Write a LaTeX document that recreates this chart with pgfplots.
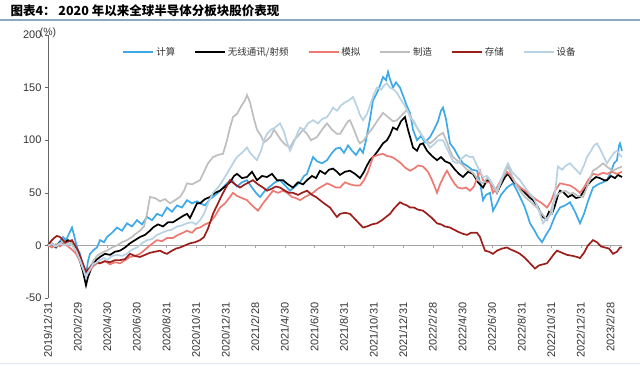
\documentclass[border=0pt]{standalone}
\usepackage{pgfplots}
\pgfplotsset{compat=1.18}
\usepackage{fontspec}
\setmainfont{Liberation Sans}
\newfontfamily\cjk{Noto Sans CJK SC}
\definecolor{cBlue}{HTML}{3FA9E8}
\definecolor{cSalmon}{HTML}{EC7A72}
\definecolor{cGrey}{HTML}{BEBEBE}
\definecolor{cDark}{HTML}{9C1E1A}
\definecolor{cLight}{HTML}{B7D2E3}
\definecolor{ruleblue}{HTML}{8FA6C4}
\definecolor{txt}{HTML}{333333}
\begin{document}
\begin{tikzpicture}
\useasboundingbox (-48pt,-67pt) rectangle (592pt,298pt);
\node[anchor=west, font=\cjk\bfseries\fontsize{12.5}{14}\selectfont] at (-41pt,287pt) {图表4：\ 2020 年以来全球半导体分板块股价表现};
\draw[ruleblue, line width=1.3pt] (-48pt,278pt) -- (592pt,278pt);
\draw[cLight!50, line width=1.5pt] (-48pt,-65.5pt) -- (592pt,-65.5pt);
\begin{axis}[at={(0,0)}, anchor=south west, scale only axis, width=582pt, height=263pt,
  xmin=48, xmax=630, ymin=-50, ymax=200,
  axis lines*=left, x axis line style={draw=none}, y axis line style={gray!80!black, line width=0.6pt},
  xtick={48,77.6,107.2,136.8,166.4,196,225.6,255.2,284.8,314.4,344,373.6,403.2,432.8,462.4,492,521.6,551.2,580.8,610.4},
  xticklabels={2019/12/31,2020/2/29,2020/4/30,2020/6/30,2020/8/31,2020/10/31,2020/12/31,2021/2/28,2021/4/30,2021/6/30,2021/8/31,2021/10/31,2021/12/31,2022/2/28,2022/4/30,2022/6/30,2022/8/31,2022/10/31,2022/12/31,2023/2/28},
  x tick style={draw=none},
  x tick label style={rotate=90, anchor=east, font=\fontsize{11}{12}\selectfont, text=txt, inner sep=1.5pt},
  ytick={-50,0,50,100,150,200},
  y tick style={gray!80!black, line width=0.6pt},
  y tick label style={font=\fontsize{11}{12}\selectfont, text=txt},
  tick align=outside, major tick length=3pt,
  /pgf/number format/assume math mode=true,
  legend style={at={(0.519,0.935)}, anchor=center, draw=none, fill=none, legend columns=6,
    font=\cjk\fontsize{9.5}{11}\selectfont, text=txt,
    /tikz/every even column/.append style={column sep=17pt}},
  legend image code/.code={\draw[#1] (0pt,0pt) -- (30pt,0pt);},
  clip=false,
]
\addplot[gray!70, line width=0.6pt, forget plot] coordinates {(48,0) (622,0)};
\addplot[ycomb, gray!70, line width=0.6pt, no marks, forget plot] coordinates {(77.6,-2.8) (107.2,-2.8) (136.8,-2.8) (166.4,-2.8) (196,-2.8) (225.6,-2.8) (255.2,-2.8) (284.8,-2.8) (314.4,-2.8) (344,-2.8) (373.6,-2.8) (403.2,-2.8) (432.8,-2.8) (462.4,-2.8) (492,-2.8) (521.6,-2.8) (551.2,-2.8) (580.8,-2.8) (610.4,-2.8)};
% 计算
\addplot[cBlue, line width=1.7pt] coordinates {
(48,0) (52,2) (56,-1) (60,4) (63,8) (66,5) (70,13) (72,17) (74,10) (77,-2) (80,-8) (83,-20) (86,-28) (88,-15) (90,-8) (94,-4) (97,-2) (100,5) (104,3) (107,8) (112,12) (117,17) (122,14) (127,21) (132,18) (137,24) (142,20) (147,27) (152,24) (157,30) (162,28) (167,36) (172,32) (177,38) (182,36) (187,43) (192,40) (197,42) (200,40) (205,38) (210,44) (213,46) (218,50) (223,55) (228,60) (232,62) (237,56) (242,60) (247,62) (252,55) (256,50) (260,46) (265,52) (270,56) (275,60) (280,62) (285,57) (290,52) (295,56) (300,60) (304,66) (307,68) (310,76) (313,84) (317,80) (322,78) (327,81) (332,88) (336,92) (340,93) (344,88) (348,95) (352,90) (356,86) (360,92) (363,88) (366,100) (370,120) (373,138) (377,145) (380,152) (383,160) (386,157) (388,165) (390,158) (393,150) (396,155) (400,150) (404,140) (407,132) (410,126) (413,110) (417,100) (421,104) (425,98) (430,103) (434,110) (438,118) (441,128) (443,131) (446,120) (450,97) (454,92) (458,85) (463,78) (468,75) (472,72) (477,71) (480,60) (483,43) (486,48) (490,50) (493,33) (497,40) (501,48) (507,55) (510,57) (513,59) (517,52) (520,46) (524,38) (527,30) (530,21) (534,15) (538,8) (542,3) (546,10) (550,16) (555,28) (560,36) (565,38) (570,41) (575,32) (580,21) (584,30) (588,42) (593,55) (598,58) (603,60) (607,62) (611,70) (614,78) (617,81) (619,95) (620,97) (622,90)};
\addlegendentry{计算}
% 无线通讯/射频
\addplot[black, line width=1.7pt] coordinates {
(48,0) (52,1) (56,-2) (60,3) (64,2) (68,5) (72,3) (76,-5) (80,-15) (83,-25) (86,-38) (88,-30) (92,-20) (96,-14) (100,-11) (105,-8) (110,-9) (115,-6) (120,-5) (125,-2) (130,2) (135,5) (140,8) (145,10) (150,14) (153,17) (158,20) (163,18) (168,22) (173,22) (178,25) (183,28) (187,30) (190,26) (194,34) (197,40) (200,40) (205,44) (210,46) (215,50) (220,52) (225,56) (230,60) (234,66) (237,68) (242,64) (247,65) (252,70) (257,62) (262,66) (267,65) (272,68) (277,62) (283,62) (288,58) (293,55) (298,60) (303,58) (307,62) (312,66) (316,64) (320,71) (325,68) (329,72) (333,73) (337,70) (340,67) (345,70) (350,71) (355,68) (360,64) (364,70) (367,76) (370,81) (374,85) (378,90) (383,97) (387,100) (390,105) (393,112) (397,110) (401,118) (405,122) (408,110) (411,100) (413,93) (417,90) (420,96) (423,97) (427,90) (432,85) (437,81) (441,84) (445,80) (450,78) (455,72) (459,68) (463,65) (468,70) (473,68) (478,60) (483,55) (487,62) (490,60) (494,55) (497,50) (501,58) (505,65) (508,68) (512,62) (516,58) (520,55) (525,50) (529,46) (533,43) (537,38) (540,32) (543,27) (546,25) (549,32) (552,30) (555,38) (558,48) (560,52) (564,50) (568,46) (572,48) (576,45) (580,46) (584,52) (588,58) (592,62) (596,65) (600,64) (604,62) (607,62) (611,66) (615,64) (618,67) (622,65)};
\addlegendentry{无线通讯/射频}
% 模拟
\addplot[cSalmon, line width=1.7pt] coordinates {
(48,0) (52,-2) (56,1) (60,-1) (64,2) (68,-1) (72,-4) (76,-8) (80,-15) (83,-22) (86,-29) (89,-25) (93,-20) (97,-17) (100,-17) (105,-15) (110,-18) (115,-16) (120,-17) (125,-14) (130,-11) (135,-10) (140,-8) (145,-4) (150,0) (154,3) (157,5) (162,4) (167,7) (173,7) (178,10) (183,12) (187,14) (192,12) (196,16) (200,17) (205,20) (210,22) (215,28) (220,36) (225,40) (230,46) (233,50) (237,47) (242,45) (247,43) (252,38) (258,33) (263,40) (268,46) (273,52) (278,50) (283,52) (287,50) (292,46) (296,45) (300,43) (305,46) (309,48) (313,50) (318,54) (322,56) (327,59) (332,57) (336,55) (340,55) (345,60) (350,58) (355,57) (360,57) (364,62) (368,70) (373,84) (378,86) (383,87) (387,85) (392,84) (397,81) (401,78) (405,74) (410,71) (414,73) (418,76) (423,75) (428,70) (432,62) (435,55) (437,50) (440,58) (444,66) (447,71) (451,64) (455,58) (458,55) (462,54) (466,55) (470,52) (474,56) (477,64) (480,71) (483,62) (486,60) (490,60) (493,50) (497,55) (502,64) (507,70) (511,66) (515,60) (520,55) (525,52) (530,48) (537,43) (542,40) (547,36) (551,42) (555,52) (560,59) (565,58) (570,57) (575,54) (580,50) (584,55) (588,62) (593,68) (598,67) (603,69) (607,68) (612,70) (617,68) (622,70)};
\addlegendentry{模拟}
% 制造
\addplot[cGrey, line width=1.7pt] coordinates {
(48,0) (52,2) (56,-1) (60,2) (64,4) (68,0) (72,3) (76,-3) (80,-12) (83,-22) (86,-30) (89,-22) (93,-15) (97,-10) (100,-8) (104,-6) (107,-5) (112,-2) (117,0) (122,3) (127,5) (132,8) (137,12) (140,14) (144,18) (147,30) (150,46) (155,45) (160,42) (165,44) (170,40) (175,43) (180,46) (184,52) (187,59) (192,58) (196,60) (200,62) (204,70) (208,78) (213,84) (218,86) (223,87) (227,100) (230,112) (233,122) (237,125) (241,132) (245,138) (247,143) (250,136) (254,120) (257,110) (261,104) (264,98) (267,100) (271,104) (274,110) (277,106) (281,100) (285,96) (290,93) (294,100) (298,104) (303,110) (307,106) (311,100) (317,103) (322,110) (327,116) (332,110) (337,106) (340,106) (344,112) (348,118) (350,119) (354,110) (358,100) (360,97) (364,100) (368,106) (373,112) (377,118) (380,122) (383,126) (388,122) (393,118) (397,119) (402,124) (407,129) (410,124) (413,118) (417,112) (421,106) (425,100) (430,97) (434,100) (438,104) (443,107) (447,98) (450,90) (453,84) (458,80) (463,76) (467,72) (470,71) (474,68) (478,62) (483,59) (487,64) (490,62) (494,55) (497,50) (501,60) (505,70) (508,75) (512,66) (516,58) (520,52) (525,46) (530,42) (537,36) (542,30) (547,24) (550,30) (553,40) (557,48) (560,50) (565,52) (570,49) (573,50) (578,47) (583,46) (588,58) (593,71) (598,74) (603,78) (608,74) (613,71) (617,73) (622,75)};
\addlegendentry{制造}
% 存储
\addplot[cDark, line width=1.7pt] coordinates {
(48,0) (51,4) (54,7) (57,9) (60,8) (63,5) (66,2) (69,4) (72,5) (75,0) (78,-5) (82,-15) (86,-25) (89,-22) (93,-18) (97,-16) (100,-17) (105,-15) (110,-16) (115,-14) (120,-14) (125,-13) (128,-10) (130,-8) (135,-10) (140,-11) (145,-9) (150,-7) (155,-6) (160,-5) (164,-7) (167,-8) (172,-5) (176,-3) (180,-2) (185,0) (190,2) (195,3) (200,5) (204,8) (208,16) (213,30) (218,40) (222,48) (226,55) (230,62) (235,58) (240,55) (245,58) (249,60) (253,62) (258,58) (263,55) (267,52) (272,54) (276,56) (280,55) (285,52) (289,50) (293,50) (298,48) (302,50) (307,52) (312,48) (316,46) (320,43) (324,40) (327,38) (330,36) (333,32) (337,27) (340,30) (345,31) (350,30) (354,26) (358,22) (363,17) (367,18) (372,20) (377,21) (382,24) (386,27) (390,30) (394,35) (397,38) (400,41) (404,39) (407,38) (410,36) (414,36) (418,34) (423,33) (427,30) (432,26) (437,21) (441,20) (445,18) (450,17) (454,15) (458,13) (463,11) (467,10) (471,12) (475,12) (477,12) (480,8) (483,0) (485,-5) (489,-6) (493,-8) (497,-5) (502,-3) (507,-2) (511,-4) (516,-6) (520,-8) (525,-12) (530,-17) (535,-22) (539,-19) (543,-18) (547,-17) (551,-12) (555,-7) (557,-5) (562,-7) (567,-9) (573,-10) (577,-11) (580,-12) (584,-7) (588,0) (593,5) (597,3) (601,-1) (605,-2) (609,-3) (613,-8) (617,-6) (620,-2) (622,-2)};
\addlegendentry{存储}
% 设备
\addplot[cLight, line width=1.7pt] coordinates {
(48,0) (52,1) (56,-1) (60,2) (64,0) (68,2) (72,0) (76,-5) (80,-14) (83,-22) (86,-30) (89,-24) (93,-18) (97,-16) (100,-14) (104,-12) (107,-14) (112,-10) (117,-9) (122,-10) (127,-8) (132,-4) (137,-2) (142,2) (147,5) (152,6) (157,10) (162,12) (167,14) (172,15) (177,18) (182,19) (187,21) (192,22) (196,20) (200,24) (204,30) (208,40) (213,50) (218,55) (223,62) (228,70) (233,78) (237,84) (242,88) (247,93) (250,88) (254,84) (257,81) (261,90) (264,100) (267,106) (271,110) (275,112) (280,116) (284,108) (287,98) (290,90) (294,98) (298,108) (300,112) (304,110) (308,116) (313,119) (318,116) (322,120) (327,122) (330,126) (333,131) (337,128) (341,133) (345,136) (349,138) (353,141) (357,132) (360,124) (363,119) (367,125) (371,136) (374,144) (377,150) (381,148) (384,152) (387,154) (390,150) (394,148) (397,145) (400,140) (404,134) (407,129) (410,122) (414,118) (417,112) (421,106) (425,100) (430,93) (434,96) (438,100) (443,100) (447,92) (450,86) (453,80) (457,78) (461,82) (466,86) (470,84) (473,84) (477,76) (480,70) (483,65) (487,66) (490,62) (494,56) (497,52) (501,62) (505,72) (508,78) (512,70) (516,66) (520,62) (525,55) (529,50) (533,46) (537,38) (540,30) (543,21) (547,26) (552,30) (555,50) (558,75) (562,72) (566,76) (570,78) (574,74) (578,70) (580,68) (584,76) (587,84) (591,90) (594,95) (597,97) (601,90) (604,84) (607,78) (611,84) (614,88) (617,90) (620,86) (622,84)};
\addlegendentry{设备}
\end{axis}
\node[font=\fontsize{10.5}{11}\selectfont, text=txt] at (0pt,265pt) {(\%)};
\end{tikzpicture}
\end{document}
